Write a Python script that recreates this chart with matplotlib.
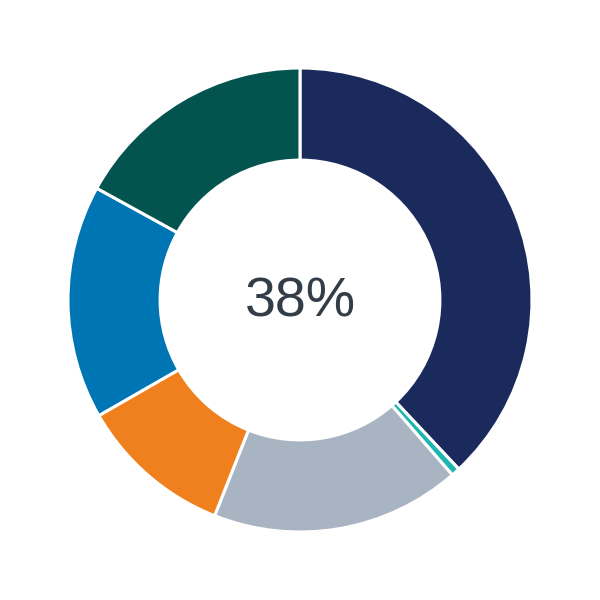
import matplotlib
matplotlib.use("Agg")
import matplotlib.pyplot as plt

labels = ["Navy", "Teal", "Gray", "Orange", "Blue", "Green"]
values = [38.0, 0.6, 17.4, 10.7, 16.3, 17.0]
colors = ["#1b2a5c", "#1fb5b0", "#a9b4c2", "#f07f1e", "#0075b4", "#03544f"]
center_text = "38%"

fig = plt.figure(figsize=(6, 6), dpi=100)
ax = fig.add_axes([0, 0, 1, 1])
ax.pie(values, colors=colors, startangle=90, counterclock=False, radius=1.0,
       wedgeprops=dict(width=0.397, edgecolor="white", linewidth=2.2))
lim = 300 / 232
ax.set_xlim(-lim, lim)
ax.set_ylim(-lim, lim)
ax.set_aspect("equal")
ax.axis("off")
ax.text(0, -0.01, center_text, ha="center", va="center", fontsize=40,
        family=["Liberation Sans", "DejaVu Sans"], color="#333d47")
fig.savefig("out.png", dpi=100)
